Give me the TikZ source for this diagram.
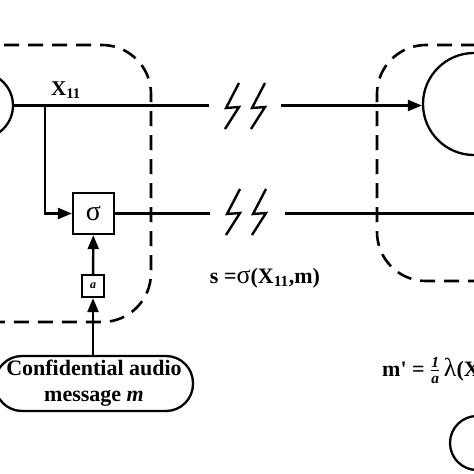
\documentclass[tikz,border=0pt]{standalone}
\usepackage{amsmath}
\usepackage{fontspec}
\setmainfont{Liberation Serif}
\usepackage{tikz}
\usetikzlibrary{calc, arrows.meta}

\newcommand{\zap}[1]{\draw[wire] ($(#1)+(7,-23)$) -- ++(-13,25) -- ++(13,-1) -- ++(-14,22);}

\begin{document}
\begin{tikzpicture}[x=1pt, y=-1pt,
        wire/.style={line width=2.4pt},
        arr/.style={wire, -{Triangle[length=14pt,width=11pt]}},
        dashbox/.style={line width=2.6pt, dash pattern=on 15pt off 9pt, rounded corners=49pt},
        blk/.style={draw, line width=2.3pt, inner sep=0pt},
        lbl/.style={font=\fontsize{22}{26}\selectfont\bfseries}]
                \clip (0,0) rectangle (474,474);
                % sender and receiver areas
                \draw[dashbox] (-20,45) -- (151,45) -- (151,322) -- (-20,322);
                \draw[dashbox] (500,45) -- (377,45) -- (377,281) -- (500,281);
                % blocks
                \node[blk, circle, minimum size=66pt] (srcL) at (-20,105.5) {};
                \node[blk, circle, minimum size=102pt] (dstR) at (474,104) {};
                \node[blk, circle, minimum size=54pt] (chkR) at (477,443) {};
                \node[blk, minimum size=41pt, font=\fontsize{28}{30}\selectfont] (sigma) at (93.5,213.5) {σ};
                \node[blk, minimum size=22pt, font=\fontsize{12}{14}\selectfont\bfseries\itshape] (akey) at (93,286) {a};
                \node[blk, lbl, rounded corners=27pt, minimum width=198pt, minimum height=55pt, align=center] (msg) at (94,383.5)
                        {Confidential audio\\message \textit{m}};
                % labels
                \node[lbl, anchor=base west, inner sep=0pt, font=\fontsize{21}{24}\selectfont\bfseries] (xlab) at (51,95) {X\textsubscript{11}};
                \node[lbl, anchor=base, inner sep=0pt] (slab) at (265,283) {s =\textmd{\fontsize{26}{28}\selectfont σ}(X\textsubscript{11},m)};
                \node[lbl, anchor=base west, inner sep=0pt] (mlab) at (382,376) {m\textquotesingle{} = $\frac{\textit{1}}{\textit{a}}$\,\textmd{\fontsize{26}{28}\selectfont λ}(X};
                % wires
                \coordinate (br) at (45,105.5);
                \coordinate (t1) at (209,105.5);
                \coordinate (t2) at (281,105.5);
                \coordinate (b1) at (210,213.5);
                \coordinate (b2) at (285,213.5);
                \coordinate (b3) at (490,213.5);
                \coordinate (z1) at (232,106);
                \coordinate (z2) at (258,106);
                \coordinate (z3) at (233,212);
                \coordinate (z4) at (259,212);
                \draw[wire] (srcL) -- (t1);
                \draw[arr] (t2) -- (t2 -| dstR.west);
                \draw[arr] (br) |- (sigma);
                \draw[wire] (sigma) -- (b1);
                \draw[wire] (b2) -- (b3);
                \draw[arr] (akey) -- (sigma);
                \draw[arr] (akey |- msg.north) -- (akey);
                \zap{z1} \zap{z2} \zap{z3} \zap{z4}
            \end{tikzpicture}
\end{document}
